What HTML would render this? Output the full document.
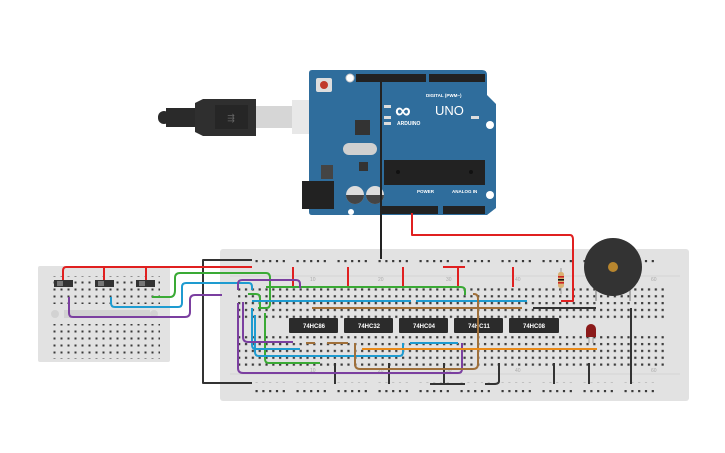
<!DOCTYPE html>
<html><head><meta charset="utf-8"><style>
html,body{margin:0;padding:0;background:#fff;width:725px;height:453px;overflow:hidden}
svg{display:block}
text{font-family:"Liberation Sans",sans-serif}
</style></head><body>
<svg width="725" height="453" viewBox="0 0 725 453" xmlns="http://www.w3.org/2000/svg">
<defs>
<pattern id="h" x="236.5" y="0" width="6.83" height="453" patternUnits="userSpaceOnUse">
<rect x="1.6" y="0" width="2" height="453" fill="none"/>
</pattern>
<pattern id="hole" x="236.6" y="0" width="6.83" height="6.83" patternUnits="userSpaceOnUse"><rect x="1.5" y="1.5" width="2.2" height="2.2" fill="#3a3a3a"/></pattern>
<pattern id="rail" x="255.5" y="0" width="41" height="10" patternUnits="userSpaceOnUse">
<rect x="0" y="0" width="2.2" height="2.2" fill="#3a3a3a"/><rect x="6.8" y="0" width="2.2" height="2.2" fill="#3a3a3a"/><rect x="13.6" y="0" width="2.2" height="2.2" fill="#3a3a3a"/><rect x="20.4" y="0" width="2.2" height="2.2" fill="#3a3a3a"/><rect x="27.2" y="0" width="2.2" height="2.2" fill="#3a3a3a"/></pattern>
<pattern id="shole" x="52" y="0" width="7" height="7" patternUnits="userSpaceOnUse"><rect x="1.5" y="1.5" width="2" height="2" fill="#3a3a3a"/></pattern>
</defs>

<!-- USB cable -->
<g>
<rect x="158" y="111" width="12" height="13" rx="6" fill="#2a2a2a"/>
<rect x="166" y="108" width="30" height="19" fill="#2a2a2a"/>
<path d="M195 103 L203 99 L256 99 L256 136 L203 136 L195 132 Z" fill="#2f2f2f"/>
<rect x="215" y="105" width="33" height="24" fill="#262626"/>
<text x="231" y="121" font-size="9" fill="#666" text-anchor="middle">⇶</text>
<rect x="256" y="106" width="36" height="22" fill="#d6d6d6"/>
<rect x="292" y="100" width="24" height="34" fill="#e8e8e8"/>
</g>

<!-- Arduino -->
<g>
<path d="M312 70 L482 70 Q487 70 487 75 L487 95 L496 104 L496 208 L487 215 L312 215 Q309 215 309 212 L309 73 Q309 70 312 70 Z" fill="#2f6d9c"/>
<rect x="356" y="74" width="70" height="8" fill="#222"/>
<rect x="429" y="74" width="56" height="8" fill="#222"/>
<rect x="382" y="206" width="56" height="8" fill="#222"/>
<rect x="443" y="206" width="42" height="8" fill="#222"/>
<rect x="384" y="160" width="101" height="25" fill="#222"/>
<circle cx="398" cy="172" r="2" fill="#111"/><circle cx="471" cy="172" r="2" fill="#111"/>
<rect x="316" y="78" width="16" height="14" rx="2" fill="#ddd"/><circle cx="324" cy="85" r="4" fill="#c0392b"/>
<circle cx="350" cy="78" r="4" fill="#fff" stroke="#ccc"/><circle cx="490" cy="125" r="4" fill="#fff"/><circle cx="490" cy="195" r="4" fill="#fff"/><circle cx="351" cy="212" r="3" fill="#fff"/>
<rect x="355" y="120" width="15" height="15" fill="#333"/>
<rect x="343" y="143" width="34" height="12" rx="6" fill="#d0d0d0"/>
<rect x="359" y="162" width="9" height="9" fill="#333"/>
<rect x="321" y="165" width="12" height="14" fill="#444"/>
<rect x="302" y="181" width="32" height="28" fill="#222"/>
<circle cx="355" cy="195" r="9" fill="#ddd"/><path d="M346 195 A9 9 0 0 0 364 195 Z" fill="#444"/>
<circle cx="375" cy="195" r="9" fill="#ddd"/><path d="M366 195 A9 9 0 0 0 384 195 Z" fill="#444"/>
<text x="395" y="118" font-size="22" fill="#fff" font-weight="bold">∞</text>
<text x="397" y="125" font-size="5" fill="#fff" font-weight="bold">ARDUINO</text>
<text x="435" y="115" font-size="13" fill="#fff">UNO</text>
<text x="426" y="97" font-size="4.5" fill="#fff" font-weight="bold">DIGITAL (PWM~)</text>
<text x="417" y="193" font-size="4.5" fill="#fff" font-weight="bold">POWER</text>
<text x="452" y="193" font-size="4.5" fill="#fff" font-weight="bold">ANALOG IN</text>
<rect x="384" y="105" width="7" height="3" fill="#ddd"/><rect x="384" y="116" width="7" height="3" fill="#ddd"/><rect x="384" y="122" width="7" height="3" fill="#ddd"/>
<rect x="471" y="116" width="8" height="3" fill="#ddd"/>
</g>

<!-- Small breadboard -->
<rect x="38" y="266" width="132" height="96" rx="2" fill="#e2e2e2"/>
<rect x="52" y="276" width="108" height="28" fill="url(#shole)"/>
<rect x="52" y="324" width="108" height="35" fill="url(#shole)"/>
<rect x="64" y="310" width="86" height="8" fill="#d2d2d2"/>
<circle cx="55" cy="314" r="4" fill="#d2d2d2"/><circle cx="154" cy="314" r="4" fill="#d2d2d2"/>
<rect x="54" y="280" width="19" height="7" fill="#333"/><rect x="57" y="281" width="6" height="5" fill="#777"/>
<rect x="95" y="280" width="19" height="7" fill="#333"/><rect x="98" y="281" width="6" height="5" fill="#777"/>
<rect x="136" y="280" width="19" height="7" fill="#333"/><rect x="139" y="281" width="6" height="5" fill="#777"/>

<!-- Big breadboard -->
<rect x="220" y="249" width="469" height="152" rx="3" fill="#e2e2e2"/>
<rect x="255" y="258" width="410" height="12" fill="url(#rail)"/>
<rect x="255" y="382" width="410" height="12" fill="url(#rail)"/>
<rect x="238" y="286" width="430" height="33" fill="url(#hole)"/>
<rect x="238" y="334" width="430" height="33" fill="url(#hole)"/>
<line x1="230" y1="276" x2="680" y2="276" stroke="#d4d4d4"/>
<line x1="230" y1="374" x2="680" y2="374" stroke="#d4d4d4"/>
<g font-size="5" fill="#aaa">
<text x="310" y="281">10</text><text x="378" y="281">20</text><text x="446" y="281">30</text><text x="515" y="281">40</text><text x="651" y="281">60</text>
<text x="310" y="372">10</text><text x="378" y="372">20</text><text x="446" y="372">30</text><text x="515" y="372">40</text><text x="651" y="372">60</text>
</g>

<!-- chips -->
<g font-size="6" fill="#fff" text-anchor="middle" font-weight="bold">
<rect x="289" y="318" width="49" height="15" rx="1" fill="#2b2b2b"/><text x="314" y="328">74HC86</text>
<rect x="344" y="318" width="49" height="15" rx="1" fill="#2b2b2b"/><text x="369" y="328">74HC32</text>
<rect x="399" y="318" width="49" height="15" rx="1" fill="#2b2b2b"/><text x="424" y="328">74HC04</text>
<rect x="454" y="318" width="49" height="15" rx="1" fill="#2b2b2b"/><text x="479" y="328">74HC11</text>
<rect x="509" y="318" width="50" height="15" rx="1" fill="#2b2b2b"/><text x="534" y="328">74HC08</text>
</g>

<!-- wires -->
<g fill="none" stroke-width="2" stroke-linejoin="round">
<!-- black -->
<path d="M381 78 L381 259" stroke="#222"/>
<path d="M252 260 L203 260 L203 383 L252 383" stroke="#333"/>
<path d="M335 363 V384 M389 363 V384 M444 363 V384 M430 384 H465 M554 363 V384 M589 363 V384 M631 308 V384" stroke="#333"/>
<path d="M499 363 V381 Q499 384 494 384 H485" stroke="#333"/>
<path d="M533 308 H596" stroke="#333"/>
<!-- red -->
<path d="M412 213 V235 H570 Q573 235 573 240 V301 H561" stroke="#e02020"/>
<path d="M252 267 H66 Q63 267 63 271 V280 M104 267 Q104 267 104 280 M146 267 V280" stroke="#e02020"/>
<path d="M293 267 V287 M348 267 V287 M403 267 V287 M458 267 V287 M443 267 H465 M513 267 V287" stroke="#e02020"/>
<!-- green -->
<path d="M152 297 H170 Q175 297 175 290 V278 Q175 273 180 273 H266 Q270 273 270 278 V304 Q270 308 266 308 H258" stroke="#3aaa35"/>
<path d="M266 287 H461 Q465 287 465 291 V295" stroke="#3aaa35"/>
<path d="M248 294 H256 Q260 294 260 298 V308" stroke="#3aaa35"/>
<path d="M265 313 V359 Q265 363 269 363 H320" stroke="#3aaa35"/>
<!-- blue -->
<path d="M111 297 V303 Q111 307 115 307 H178 Q182 307 182 303 V287 Q182 283 186 283 H249 Q252 283 252 287 V290" stroke="#1e9bd0"/>
<path d="M252 301 H411 M416 301 H527" stroke="#1e9bd0"/>
<path d="M252 308 V345 Q252 349 256 349 H300" stroke="#1e9bd0"/>
<path d="M255 315 V352 Q255 356 259 356 H399 Q403 356 403 352 V343" stroke="#1e9bd0"/>
<path d="M410 343 H458" stroke="#1e9bd0"/>
<!-- purple -->
<path d="M69 297 V313 Q69 317 73 317 H185 Q190 317 190 312 V300 Q190 295 195 295 H222" stroke="#7b3fa0"/>
<path d="M238 290 V284 Q238 280 242 280 H296 Q300 280 300 284 V288" stroke="#7b3fa0"/>
<path d="M243 302 V337 Q243 342 248 342 H293" stroke="#7b3fa0"/>
<path d="M238 303 V368 Q238 373 243 373 H458 Q462 373 462 369 V343" stroke="#7b3fa0"/>
<!-- brown -->
<path d="M312 308 H522" stroke="#a0703a"/>
<path d="M473 294 H474 Q478 294 478 299 V364 Q478 369 473 369 H360 Q355 369 355 364 V343" stroke="#a0703a"/>
<path d="M306 343 H315 M327 343 H348" stroke="#a0703a"/>
<!-- orange -->
<path d="M362 349 H597" stroke="#e88a1a"/>
</g>

<!-- resistor -->
<line x1="561" y1="268" x2="561" y2="294" stroke="#999" stroke-width="1"/>
<rect x="558" y="272" width="6" height="16" rx="2.5" fill="#d9b173"/>
<rect x="558" y="276" width="6" height="1.6" fill="#c22"/><rect x="558" y="279" width="6" height="1.6" fill="#111"/><rect x="558" y="282" width="6" height="1.6" fill="#c22"/>

<!-- buzzer -->
<line x1="596" y1="280" x2="596" y2="301" stroke="#999" stroke-width="1.5"/>
<line x1="630" y1="280" x2="630" y2="301" stroke="#999" stroke-width="1.5"/>
<circle cx="613" cy="267" r="29" fill="#333"/>
<circle cx="613" cy="267" r="5" fill="#b8862e"/>

<!-- LED -->
<line x1="589" y1="336" x2="589" y2="343" stroke="#999"/><line x1="593" y1="336" x2="593" y2="343" stroke="#999"/>
<path d="M586 337 V329 A5 5 0 0 1 596 329 V337 Z" fill="#8b1a1a"/>
</svg>
</body></html>
